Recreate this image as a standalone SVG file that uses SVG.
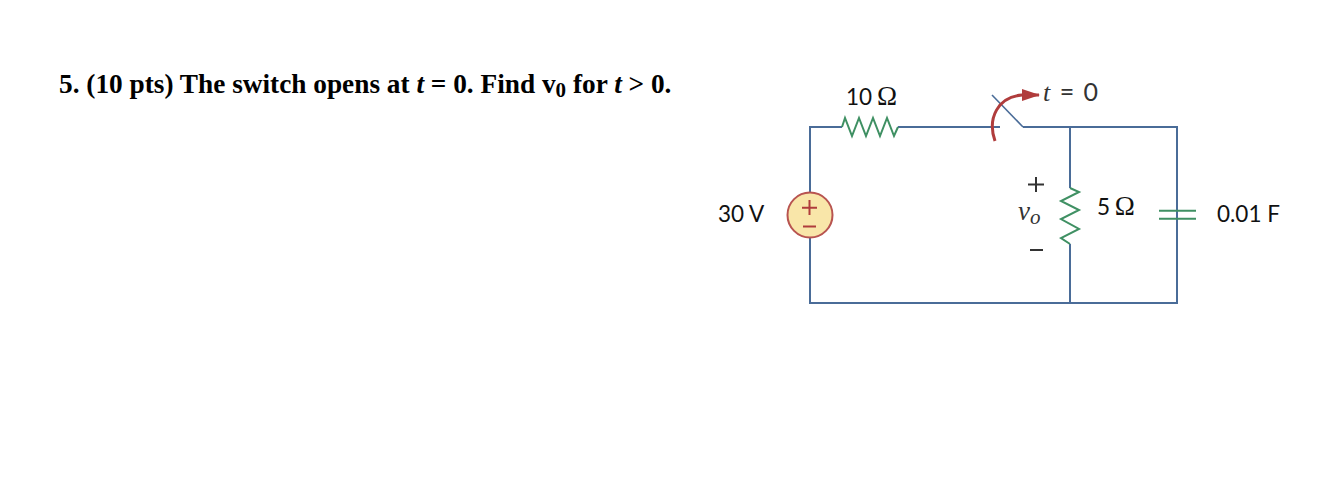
<svg xmlns="http://www.w3.org/2000/svg" width="1340" height="490" viewBox="0 0 1340 490">
<style>
.w{fill:none;stroke:#4a6c98;stroke-width:2}
.g{fill:none;stroke:#3f9063;stroke-width:2}
.r{fill:none;stroke:#b03c3c}
.l{font-family:Lato,"Liberation Sans",sans-serif;font-size:22.500px;fill:#111}
.o{font-family:"Liberation Serif",serif;font-size:27px}
.q{font-family:"Liberation Serif",serif;font-size:27.300px;font-weight:bold;fill:#000}
</style>
<defs><marker id="a" markerUnits="userSpaceOnUse" markerWidth="18" markerHeight="12" refX="17" refY="6" orient="auto"><path d="M0 0L18 6L0 12Z" fill="#b03c3c"/></marker></defs>
<rect width="1340" height="490" fill="#fff"/>
<text class="q" x="59" y="93">5. (10 pts) The switch opens at <tspan font-style="italic">t</tspan> = 0. Find v<tspan font-size="21" dy="4">0</tspan><tspan dy="-4"> for </tspan><tspan font-style="italic">t</tspan> &gt; 0.</text>
<g id="connectors">
<path class="w" d="M810 192V127H842M898 127H1000M1023 127H1177V303H810V238M1070 127V188M1070 244V303"/>
<path d="M992 95L1023 127" fill="none" stroke="#4a6c98" stroke-width="1.600"/>
<path class="r" stroke-width="3" d="M995 141C987 118 998 97 1022 95L1039 95" marker-end="url(#a)"/>
</g>
<g id="r1"><path class="g" d="M842 127L845 118L852 136L859 118L866 136L873 118L880 136L887 118L894 136L898 127"/><text class="l" x="846" y="105" word-spacing="-1">10 <tspan class="o">Ω</tspan></text></g>
<g id="switch"><text x="1043" y="101" font-family="Lato,sans-serif" font-size="25" fill="#333" word-spacing="3"><tspan font-family="Liberation Serif" font-style="italic" font-size="26">t</tspan> = 0</text></g>
<g id="source"><circle cx="810" cy="215" r="22.500" fill="#f9e6a9" stroke="#b85450" stroke-width="2"/>
<path d="M802 207.700H817M809.500 200V215M803 226.500H816" fill="none" stroke="#b03c3c" stroke-width="2"/>
<text class="l" x="718" y="222">30 V</text></g>
<g id="r2"><path class="g" d="M1070 188L1079 192L1061 201L1079 210L1061 219L1079 229L1061 238L1070 244"/>
<text class="l" x="1097" y="215" word-spacing="-1">5 <tspan class="o">Ω</tspan></text>
<path d="M1028 184.500H1044M1036 177V192M1030 250H1043" fill="none" stroke="#333" stroke-width="2"/>
<text font-family="Liberation Serif,serif" font-style="italic" font-size="27" fill="#333" x="1018" y="220">v<tspan font-size="21" dy="4">o</tspan></text></g>
<g id="cap"><path d="M1159 210.700H1196M1159 218.700H1196" class="g"/><text class="l" x="1217" y="222">0.01 F</text></g>
</svg>
